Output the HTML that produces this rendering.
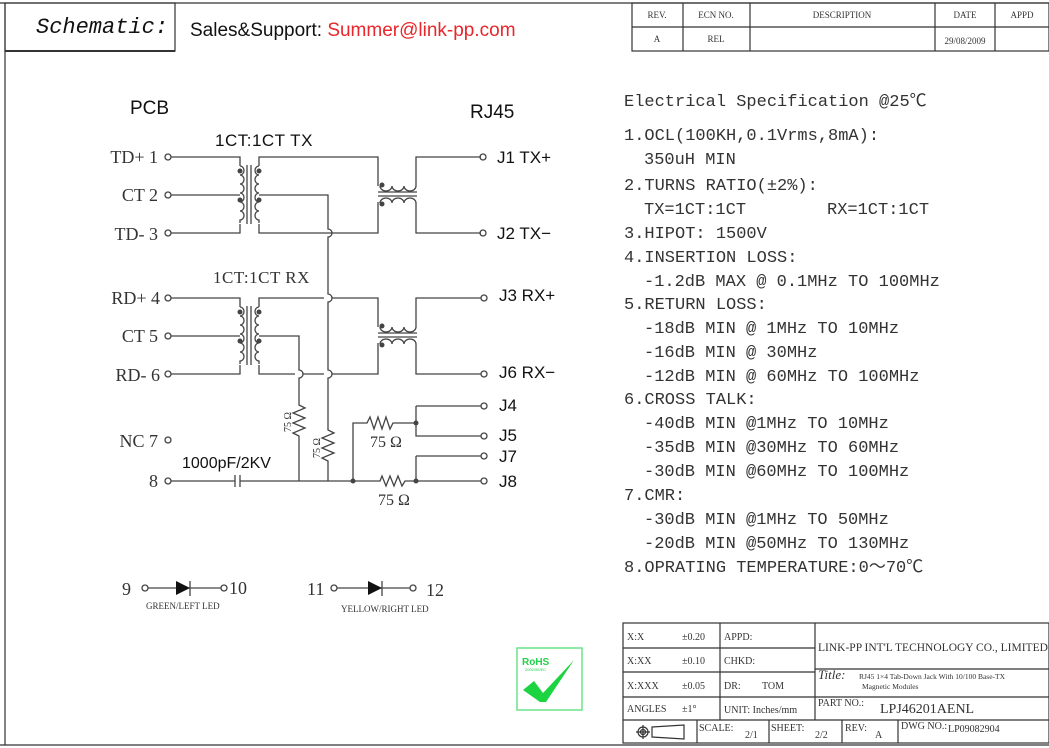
<!DOCTYPE html>
<html><head><meta charset="utf-8"><style>
html,body{margin:0;padding:0;background:#fff;}
svg{display:block}
.s{font-family:"Liberation Serif","Noto Serif CJK SC",serif;}
.m{font-family:"Liberation Mono","Noto Sans CJK SC",monospace;}
.a{font-family:"Liberation Sans","Noto Sans CJK SC",sans-serif;}
</style></head><body>
<svg width="1049" height="748" viewBox="0 0 1049 748" xmlns="http://www.w3.org/2000/svg">
<g fill="none" stroke="#333" stroke-width="1.2">
<line x1="0" y1="3" x2="1049" y2="3"/>
<line x1="5" y1="3" x2="5" y2="745"/>
<line x1="0" y1="745" x2="1049" y2="745"/>
<rect x="5" y="3" width="170" height="48"/>
<line x1="5" y1="51" x2="175" y2="51" stroke-width="2"/>
<rect x="632" y="3" width="417" height="48"/>
<line x1="632" y1="27" x2="1049" y2="27"/>
<line x1="683" y1="3" x2="683" y2="51"/><line x1="750" y1="3" x2="750" y2="51"/>
<line x1="935" y1="3" x2="935" y2="51"/><line x1="995" y1="3" x2="995" y2="51"/>
</g>
<text x="36" y="33" class="m" font-size="22" font-style="italic" fill="#111">Schematic:</text>
<text x="190" y="36" class="a" font-size="19" fill="#111">Sales&amp;Support: <tspan fill="#e8262b">Summer@link-pp.com</tspan></text>
<g class="s" font-size="9" fill="#333" text-anchor="middle">
<text x="657" y="18">REV.</text><text x="716" y="18">ECN NO.</text><text x="842" y="18">DESCRIPTION</text><text x="965" y="18">DATE</text><text x="1022" y="18">APPD</text>
<text x="657" y="42">A</text><text x="716" y="42">REL</text><text x="965" y="44">29/08/2009</text>
</g>

<text x="130" y="114" class="a" font-size="19" fill="#111">PCB</text>
<text x="470" y="118" class="a" font-size="19" fill="#111">RJ45</text>
<text x="215" y="146" class="a" font-size="17" fill="#111" letter-spacing="0.5">1CT:1CT  TX</text>
<text x="213" y="283" class="s" font-size="17" fill="#333" letter-spacing="0.5">1CT:1CT  RX</text>
<g class="s" font-size="18" fill="#333" text-anchor="end">
<text x="158" y="163">TD+ 1</text><text x="158" y="201">CT 2</text><text x="158" y="240">TD- 3</text>
<text x="160" y="304">RD+ 4</text><text x="158" y="342">CT 5</text><text x="160" y="381">RD- 6</text>
<text x="158" y="447">NC 7</text><text x="158" y="487">8</text>
</g>
<g class="a" font-size="17" fill="#111">
<text x="497" y="163">J1 TX+</text><text x="497" y="239">J2 TX−</text>
<text x="499" y="301">J3 RX+</text><text x="499" y="378">J6 RX−</text>
<text x="499" y="411">J4</text><text x="499" y="441">J5</text><text x="499" y="462">J7</text><text x="499" y="487">J8</text>
</g>
<text x="182" y="468" class="a" font-size="16" fill="#111">1000pF/2KV</text>
<text x="370" y="447" class="s" font-size="16" fill="#333">75 Ω</text>
<text x="378" y="505" class="s" font-size="16" fill="#333">75 Ω</text>
<text transform="translate(291,432) rotate(-90)" class="s" font-size="10" fill="#333">75 Ω</text>
<text transform="translate(320,458) rotate(-90)" class="s" font-size="10" fill="#333">75 Ω</text>

<g fill="none" stroke="#444" stroke-width="1.3">
<circle cx="168" cy="157" r="3"/><circle cx="168" cy="195" r="3"/><circle cx="168" cy="233" r="3"/>
<circle cx="168" cy="298" r="3"/><circle cx="168" cy="336" r="3"/><circle cx="168" cy="374" r="3"/>
<circle cx="168" cy="440" r="3"/><circle cx="168" cy="481" r="3"/>
<circle cx="483" cy="157" r="3"/><circle cx="483" cy="233" r="3"/><circle cx="484" cy="298" r="3"/><circle cx="484" cy="374" r="3"/>
<circle cx="484" cy="406" r="3"/><circle cx="484" cy="436" r="3"/><circle cx="484" cy="456" r="3"/><circle cx="484" cy="481" r="3"/>

<path d="M171 157H240V166 M171 195H240 M171 233H240V224"/>
<path d="M240 166 a4 4.5 0 0 1 0 9 a4 4.5 0 0 1 0 9 a4 4.5 0 0 1 0 9 a4 4.5 0 0 1 0 9 a4 4.5 0 0 1 0 9 a4 4.5 0 0 1 0 9 v3"/>
<path d="M259 166 a4 4.5 0 0 0 0 9 a4 4.5 0 0 0 0 9 a4 4.5 0 0 0 0 9 a4 4.5 0 0 0 0 9 a4 4.5 0 0 0 0 9 a4 4.5 0 0 0 0 9 v3"/>
<path d="M247 165V224 M251 165V224"/>
<path d="M259 166V157H378V186 M259 195H328V229 a4 4 0 0 1 0 8 V294 a4 4 0 0 1 0 8 V370 a4 4 0 0 1 0 8 V430 l6 3 -12 5 12 5 -12 5 12 5 -12 5 6 3 V481"/>
<path d="M259 224V233H378V202"/>
<path d="M380 186 a6 5 0 0 0 12 0 a6 5 0 0 0 12 0 a6 5 0 0 0 12 0 V157H481"/>
<path d="M380 203 a6 5 0 0 1 12 0 a6 5 0 0 1 12 0 a6 5 0 0 1 12 0 V233H481"/>
<path d="M378 192H417 M378 196H417"/>

<path d="M171 298H240V307 M171 336H240 M171 374H240V365"/>
<path d="M240 307 a4 4.5 0 0 1 0 9 a4 4.5 0 0 1 0 9 a4 4.5 0 0 1 0 9 a4 4.5 0 0 1 0 9 a4 4.5 0 0 1 0 9 a4 4.5 0 0 1 0 9 v3"/>
<path d="M259 307 a4 4.5 0 0 0 0 9 a4 4.5 0 0 0 0 9 a4 4.5 0 0 0 0 9 a4 4.5 0 0 0 0 9 a4 4.5 0 0 0 0 9 a4 4.5 0 0 0 0 9 v3"/>
<path d="M247 306V365 M251 306V365"/>
<path d="M259 307V298H324 M332 298H378V327 M259 336H299V370 a4 4 0 0 1 0 8 V405 l6 3 -12 5 12 5 -12 5 12 5 -12 5 6 3 V481"/>
<path d="M259 365V374H295 M303 374H324 M332 374H378V343"/>
<path d="M380 327 a6 5 0 0 0 12 0 a6 5 0 0 0 12 0 a6 5 0 0 0 12 0 V298H481"/>
<path d="M380 344 a6 5 0 0 1 12 0 a6 5 0 0 1 12 0 a6 5 0 0 1 12 0 V374H481"/>
<path d="M378 333H417 M378 337H417"/>

<path d="M171 481H235 M240 481H353 M353 481H380 l2 -5 4 10 4 -10 4 10 4 -10 4 10 3 -5 H481"/>
<path d="M235 475V487 M240 475V487"/>
<path d="M353 481V423H367 l3 -6 4 12 4 -12 4 12 4 -12 4 12 3 -6 H416"/>
<path d="M416 406H481 M416 406V436H481 M416 456H481 M416 456V481"/>
</g>
<g fill="#444">
<circle cx="240" cy="171" r="2.5"/><circle cx="259" cy="171" r="2.5"/><circle cx="240" cy="200" r="2.5"/><circle cx="259" cy="200" r="2.5"/>
<circle cx="240" cy="312" r="2.5"/><circle cx="259" cy="312" r="2.5"/><circle cx="240" cy="341" r="2.5"/><circle cx="259" cy="341" r="2.5"/>
<circle cx="382" cy="185" r="2.5"/><circle cx="382" cy="204" r="2.5"/><circle cx="382" cy="326" r="2.5"/><circle cx="382" cy="345" r="2.5"/>
<circle cx="353" cy="481" r="2.5"/><circle cx="416" cy="423" r="2.5"/><circle cx="416" cy="481" r="2.5"/>
</g>

<g fill="none" stroke="#444" stroke-width="1.3">
<circle cx="145" cy="588" r="3"/><circle cx="224" cy="588" r="3"/>
<path d="M148 588H221 M190 581V596"/>
<circle cx="334" cy="588" r="3"/><circle cx="413" cy="588" r="3"/>
<path d="M337 588H410 M382 581V596"/>
</g>
<path d="M176 581L190 588 176 595Z M368 581L382 588 368 595Z" fill="#111"/>
<g class="s" fill="#333">
<text x="122" y="595" font-size="18">9</text><text x="229" y="594" font-size="18">10</text>
<text x="307" y="595" font-size="18">11</text><text x="426" y="596" font-size="18">12</text>
<text x="146" y="609" font-size="9">GREEN/LEFT LED</text>
<text x="341" y="612" font-size="9">YELLOW/RIGHT LED</text>
</g>

<g class="m" font-size="17" fill="#333">
<text x="624" y="106">Electrical Specification @25℃</text>
<text x="624" y="140">1.OCL(100KH,0.1Vrms,8mA):</text>
<text x="644" y="164">350uH MIN</text>
<text x="624" y="190">2.TURNS RATIO(±2%):</text>
<text x="644" y="214">TX=1CT:1CT</text><text x="827" y="214">RX=1CT:1CT</text>
<text x="624" y="238">3.HIPOT:    1500V</text>
<text x="624" y="262">4.INSERTION LOSS:</text>
<text x="644" y="286">-1.2dB MAX @ 0.1MHz TO 100MHz</text>
<text x="624" y="309">5.RETURN LOSS:</text>
<text x="644" y="333">-18dB MIN @ 1MHz TO 10MHz</text>
<text x="644" y="357">-16dB MIN @ 30MHz</text>
<text x="644" y="381">-12dB MIN @ 60MHz TO 100MHz</text>
<text x="624" y="404">6.CROSS TALK:</text>
<text x="644" y="428">-40dB MIN @1MHz TO 10MHz</text>
<text x="644" y="452">-35dB MIN @30MHz TO 60MHz</text>
<text x="644" y="476">-30dB MIN @60MHz TO 100MHz</text>
<text x="624" y="500">7.CMR:</text>
<text x="644" y="524">-30dB MIN @1MHz TO 50MHz</text>
<text x="644" y="548">-20dB MIN @50MHz TO 130MHz</text>
<text x="624" y="572">8.OPRATING TEMPERATURE:0～70℃</text>
</g>

<rect x="517" y="648" width="65" height="62" fill="none" stroke="#6be38a" stroke-width="1.5"/>
<text x="522" y="665" class="a" font-size="10" font-weight="bold" fill="#22d14a">RoHS</text>
<text x="525" y="671" class="a" font-size="4" fill="#22d14a">2002/95/EC</text>
<path d="M523 690L534 681 543 693 574 660 546 702 540 702Z" fill="#1bd440"/>

<g fill="none" stroke="#333" stroke-width="1.2">
<rect x="623" y="623" width="426" height="120"/>
<line x1="623" y1="648" x2="815" y2="648"/><line x1="623" y1="672" x2="815" y2="672"/>
<line x1="623" y1="697" x2="1049" y2="697"/><line x1="623" y1="720" x2="1049" y2="720"/>
<line x1="815" y1="669" x2="1049" y2="669"/>
<line x1="720" y1="623" x2="720" y2="720"/><line x1="815" y1="623" x2="815" y2="720"/>
<line x1="697" y1="720" x2="697" y2="743"/><line x1="769" y1="720" x2="769" y2="743"/>
<line x1="842" y1="720" x2="842" y2="743"/><line x1="898" y1="720" x2="898" y2="743"/>
<circle cx="643" cy="732" r="5"/><circle cx="643" cy="732" r="2.5"/>
<path d="M636 732H650 M643 725V739 M652 727L684 725V739L652 737Z M652 727V737"/>
</g>
<g class="s" font-size="10" fill="#333">
<text x="627" y="640">X:X</text><text x="682" y="640">±0.20</text><text x="724" y="640">APPD:</text>
<text x="627" y="664">X:XX</text><text x="682" y="664">±0.10</text><text x="724" y="664">CHKD:</text>
<text x="627" y="689">X:XXX</text><text x="682" y="689">±0.05</text><text x="724" y="689">DR:</text><text x="762" y="689">TOM</text>
<text x="627" y="712">ANGLES</text><text x="682" y="712">±1°</text><text x="724" y="713">UNIT: Inches/mm</text>
<text x="818" y="651" font-size="11.5">LINK-PP INT'L TECHNOLOGY CO., LIMITED</text>
<text x="818" y="679" font-size="13" font-style="italic">Title:</text>
<text x="859" y="679" font-size="7.5">RJ45 1×4 Tab-Down Jack With 10/100 Base-TX</text>
<text x="862" y="689" font-size="7.5">Magnetic Modules</text>
<text x="818" y="706">PART NO.:</text>
<text x="880" y="713" font-size="14">LPJ46201AENL</text>
<text x="699" y="731">SCALE:</text><text x="745" y="738">2/1</text>
<text x="771" y="731">SHEET:</text><text x="815" y="738">2/2</text>
<text x="845" y="731">REV:</text><text x="875" y="738">A</text>
<text x="901" y="729">DWG NO.:</text><text x="948" y="732">LP09082904</text>
</g>
</svg>
</body></html>
